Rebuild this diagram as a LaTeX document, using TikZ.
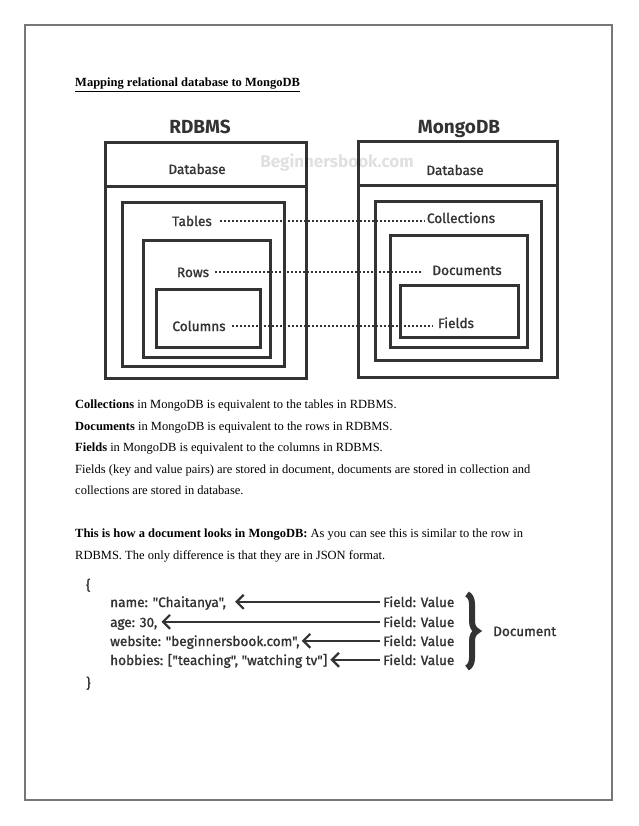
\documentclass[tikz,border=0pt]{standalone}
\usepackage{fontspec}
\setmainfont{Liberation Serif}
\newfontfamily\dia[UprightFeatures={FakeBold=1.3}]{Fira Sans}
\usetikzlibrary{arrows.meta,decorations.pathreplacing}
\definecolor{ink}{HTML}{333333}
\definecolor{pageframe}{HTML}{777777}
\begin{document}
\begin{tikzpicture}[x=1pt,y=-1pt,
  box/.style={draw=ink,line width=3pt,minimum width=#1},
  lbl/.style={font=\dia\fontsize{13.6}{16}\selectfont,text=ink,inner sep=0pt,anchor=base},
  head/.style={font=\dia\bfseries\fontsize{19}{22}\selectfont,text=ink,inner sep=0pt,anchor=base},
  dots/.style={draw=ink,line width=2.2pt,dash pattern=on 2pt off 2pt},
  body/.style={font=\fontsize{12.5}{15}\selectfont,anchor=base west,inner sep=0pt},
  code/.style={font=\dia\fontsize{13.6}{16}\selectfont,text=ink,anchor=base west,inner sep=0pt},
  arr/.style={draw=ink,line width=2pt,-{Straight Barb[length=7pt,width=14pt,line width=2.2pt]}},
]
\useasboundingbox (0,0) rectangle (638,826);
\fill[white] (0,0) rectangle (638,826);
\draw[pageframe,line width=2pt] (25,25) rectangle (612,800);

% title
\node[body,font=\bfseries\fontsize{12.5}{15}\selectfont] (title) at (75,87) {\underline{Mapping relational database to MongoDB}};

% RDBMS side
\node[head] (rdbh) at (200,133.5) {RDBMS};
\node[box=201pt,minimum height=235pt] (rdb) at (205.5,260.5) {};
\draw[box] (105,187) -- (306,187);
\node[box=162pt,minimum height=163pt] (tbox) at (203,284.5) {};
\node[box=127pt,minimum height=117pt] (rbox) at (206.5,298.5) {};
\node[box=104pt,minimum height=58pt] (cbox) at (208,318) {};
\node[lbl] (rdbdb) at (197,174) {Database};
\node[lbl] (tables) at (192,226) {Tables};
\node[lbl] (rows) at (193,277) {Rows};
\node[lbl] (columns) at (199,331) {Columns};

% MongoDB side
\node[head] (mdbh) at (459,133.5) {MongoDB};
\node[box=199pt,minimum height=235pt] (mdb) at (457.5,259.5) {};
\draw[box] (358,186) -- (557,186);
\node[box=166pt,minimum height=158pt] (colbox) at (458,281) {};
\node[box=137pt,minimum height=112pt] (docbox) at (458.5,291) {};
\node[box=118pt,minimum height=52pt] (fldbox) at (459,311) {};
\node[lbl] (mdbdb) at (455,175) {Database};
\node[lbl] (collections) at (461,223) {Collections};
\node[lbl] (documents) at (467,275) {Documents};
\node[lbl] (fields) at (456,328) {Fields};

% dotted mappings
\draw[dots,shorten <=8pt,shorten >=2pt] (tables.east) -- (tables.east -| collections.west);
\draw[dots,shorten <=6pt,shorten >=10pt] (rows.east) -- (rows.east -| documents.west);
\draw[dots,shorten <=6pt,shorten >=6pt] (columns.east) -- (columns.east -| fields.west);

% watermark
\node[font=\dia\bfseries\fontsize{17}{20}\selectfont,text=black,text opacity=0.12,anchor=base] (wm) at (337,168) {Beginnersbook.com};

% body text
\node[body] (l1) at (75,408.5) {\textbf{Collections} in MongoDB is equivalent to the tables in RDBMS.};
\node[body] (l2) at (75,430) {\textbf{Documents} in MongoDB is equivalent to the rows in RDBMS.};
\node[body] (l3) at (75,451.5) {\textbf{Fields} in MongoDB is equivalent to the columns in RDBMS.};
\node[body] (l4) at (75,473) {Fields (key and value pairs) are stored in document, documents are stored in collection and};
\node[body] (l5) at (75,494.5) {collections are stored in database.};
\node[body] (l6) at (75,537.5) {\textbf{This is how a document looks in MongoDB:} As you can see this is similar to the row in};
\node[body] (l7) at (75,559) {RDBMS. The only difference is that they are in JSON format.};

% document example
\node[code] (bo) at (86,590) {\{};
\node[code] (n1) at (110,607) {name: "Chaitanya",};
\node[code] (n2) at (110,627) {age: 30,};
\node[code] (n3) at (110,646) {website: "beginnersbook.com",};
\node[code] (n4) at (110,665) {hobbies: ["teaching", "watching tv"]};
\node[code] (bc) at (86,688) {\}};
\node[code] (f1) at (383,607) {Field: Value};
\node[code] (f2) at (383,627) {Field: Value};
\node[code] (f3) at (383,646) {Field: Value};
\node[code] (f4) at (383,665) {Field: Value};
\draw[arr,shorten <=3pt,shorten >=9pt] (f1.west) -- (f1.west -| n1.east);
\draw[arr,shorten <=3pt,shorten >=4pt] (f2.west) -- (f2.west -| n2.east);
\draw[arr,shorten <=3pt,shorten >=2pt] (f3.west) -- (f3.west -| n3.east);
\draw[arr,shorten <=3pt,shorten >=3pt] (f4.west) -- (f4.west -| n4.east);
\coordinate (bt) at (467,594);
\coordinate (bb) at (467,668);
\draw[ink,line width=6pt,decorate,decoration={brace,amplitude=10pt}] (bt) -- (bb);
\node[code] (doc) at (493,636) {Document};
\end{tikzpicture}
\end{document}
